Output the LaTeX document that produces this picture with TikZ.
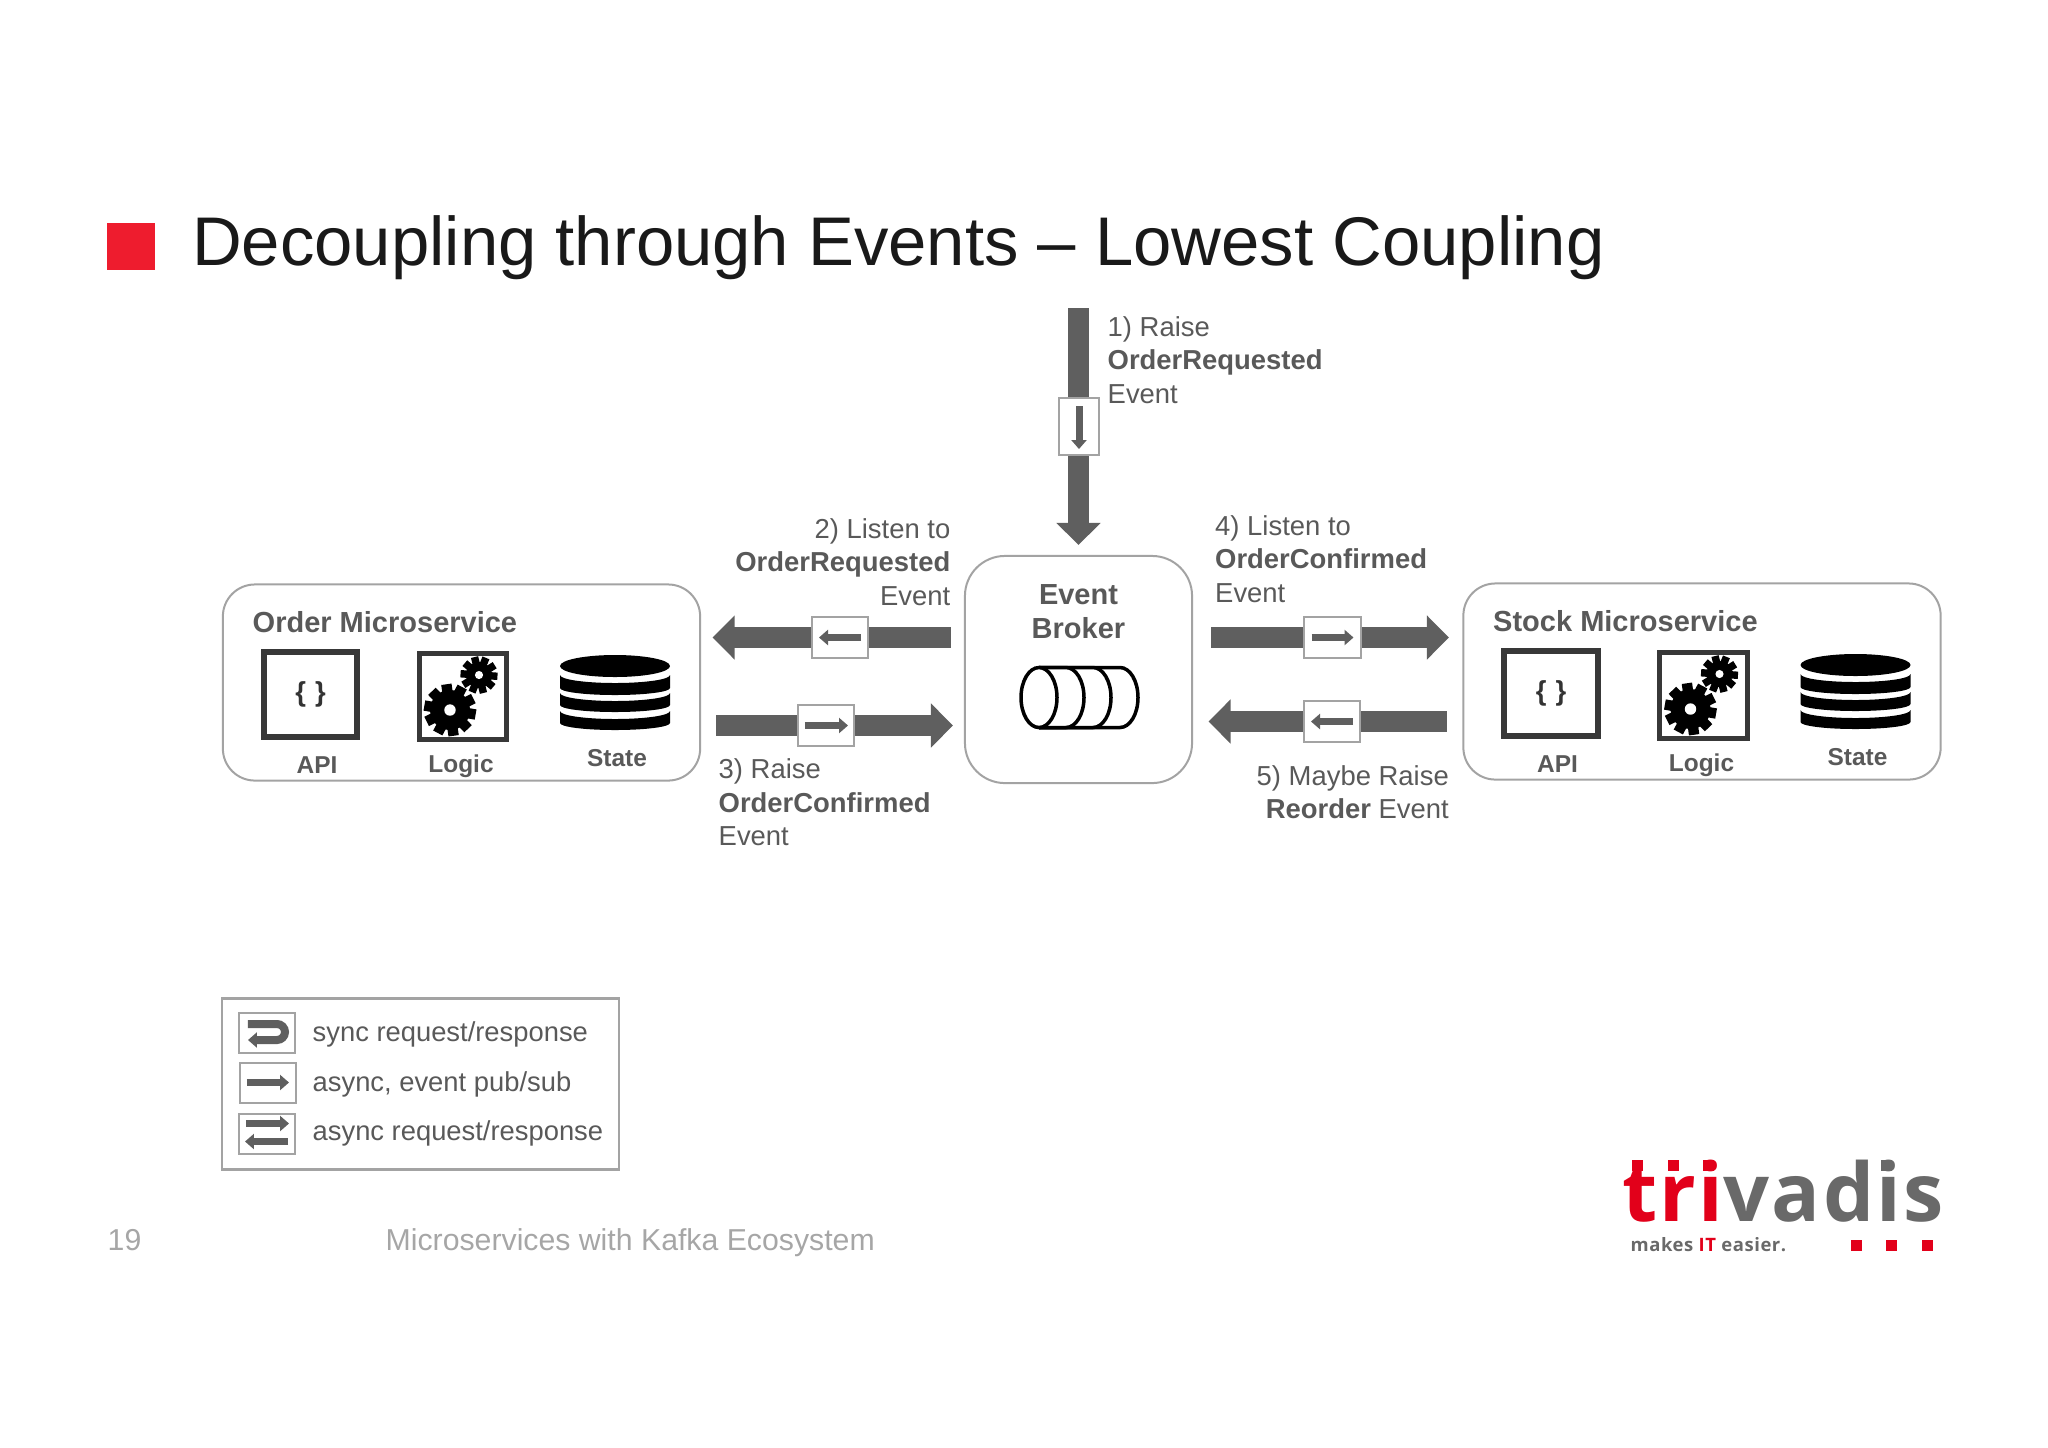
\documentclass[tikz,border=0pt]{standalone}
\usepackage{fontspec}
\setmainfont{Liberation Sans}
\newfontfamily\logofont[LetterSpace=3]{Open Sans}
\usetikzlibrary{arrows.meta,backgrounds,positioning}
\definecolor{flowgray}{HTML}{5F5F5F}
\definecolor{textgray}{HTML}{595959}
\definecolor{framegray}{HTML}{A3A3A3}
\definecolor{footgray}{HTML}{A6A6A6}
\definecolor{titlered}{HTML}{EE1C2E}
\definecolor{logored}{HTML}{E2001A}
\definecolor{logogray}{HTML}{696969}
\tikzset{
  x=0.01cm,y=-0.01cm,
  svcbox/.style={draw=framegray,line width=.02cm,rounded corners=.32cm,minimum width=4.77cm,minimum height=1.96cm},
  partbox/.style={draw=black!78,line width=.06cm,inner sep=0pt,text=black!80},
  svclabel/.style={text=textgray,inner sep=0pt,font=\fontsize{6.95}{8}\selectfont\bfseries},
  svctitle/.style={text=textgray,inner sep=0pt,font=\fontsize{8.25}{9}\selectfont\bfseries},
  note/.style={text=textgray,inner sep=0pt,font=\fontsize{7.8}{9.5}\selectfont},
  tag/.style={draw=framegray,line width=.02cm,fill=white,inner sep=0pt,minimum width=.56cm,minimum height=.41cm},
  flow/.style={draw=flowgray,line width=.21cm,-{Triangle[length=.22cm,width=.43cm]},color=flowgray},
  mini/.style={draw=flowgray,line width=.07cm,-{Triangle[length=.09cm,width=.15cm]},color=flowgray},
  legtext/.style={text=textgray,inner sep=0pt,anchor=west,font=\fontsize{7.78}{9.4}\selectfont},
  logosq/.style={fill=logored,inner sep=0pt,minimum size=.11cm},
}
\newcommand{\gearwheel}[5]{% x, y, outer, body, hole
  \fill[black] (#1,#2) circle (#4);
  \foreach \a in {0,36,72,108,144}
    \fill[black,rotate around={\a+#5:(#1,#2)}] (#1-#3*.2,#2-#3) rectangle (#1+#3*.2,#2+#3);
  \fill[white] (#1,#2) circle (#3*.22);
}
\newcommand{\dblayer}[2]{% top of side, side height
  \fill[black] (560,#1) -- (560,#1+#2) arc[start angle=180,end angle=0,x radius=55,y radius=7] -- (670,#1) arc[start angle=0,end angle=180,x radius=55,y radius=8] -- cycle;
}
\newcommand{\microservice}[4]{% name, title, x shift, y shift
\begin{scope}[shift={(#3,#4)}]
\node [svcbox] (#1) at (461.5,682.5) {};
\node [svctitle,anchor=west] (#1title) at (252,622) {#2};
\node [partbox,minimum width=.93cm,minimum height=.85cm] (#1api) at (310.5,694.5) {\fontsize{7.8}{9}\selectfont\bfseries\{\,\,\}};
\node [svclabel] (#1apilabel) at (317,765) {API};
\node [partbox,line width=.05cm,minimum width=.87cm,minimum height=.86cm] (#1logic) at (463,696.5) {};
\gearwheel{450}{710}{26}{20}{8}
\gearwheel{479}{675}{18.5}{13}{14}
\node [svclabel] (#1logiclabel) at (461,766) {Logic};
\fill[black] (615,666) ellipse (55 and 11);
\dblayer{675}{13}
\dblayer{693}{12}
\dblayer{711}{12}
\node [svclabel] (#1statelabel) at (617,758) {State};
\end{scope}
}
\begin{document}
\begin{tikzpicture}
\useasboundingbox (0,0) rectangle (2048,1447);
\fill[titlered] (107,223) rectangle (155,270);
\node [anchor=west,inner sep=0pt,text=black!90,font=\fontsize{19.58}{23}\selectfont] (title) at (191.5,248) {Decoupling through Events – Lowest Coupling};
\microservice{order}{Order Microservice}{0}{0}
\microservice{stock}{Stock Microservice}{1240.5}{-1}
\node [draw=framegray,line width=.02cm,rounded corners=.4cm,minimum width=2.27cm,minimum height=2.27cm] (broker) at (1078.5,669.5) {};
\node [text=textgray,align=center,inner sep=0pt,font=\fontsize{8.25}{9.6}\selectfont\bfseries] (brokertitle) at (1078.5,612) {Event\\Broker};
\foreach \i in {3,2,1}
  \draw[black,line width=.035cm,fill=white] (1039,667.5) -- (1039+\i*27,667.5) arc[start angle=-90,end angle=90,x radius=18,y radius=30] -- (1039,727.5);
\draw[black,line width=.035cm,fill=white] (1039,697.5) ellipse (18 and 30);
\coordinate (raise) at (1078.5,308);
\node [tag,minimum width=.4cm,minimum height=.57cm] (tag1) at (1079,426.5) {};
\node [tag] (tag2) at (840,637.5) {};
\node [tag] (tag3) at (826,725.5) {};
\node [tag] (tag4) at (1332.5,637.5) {};
\node [tag] (tag5) at (1332,721.5) {};
\begin{scope}[on background layer]
\draw [flow,shorten >=.1cm] (raise) -- (broker.north -| raise);
\draw [flow,shorten <=.13cm,shorten >=.115cm] (broker.west |- tag2) -- (order.east |- tag2);
\draw [flow,shorten <=.15cm,shorten >=.11cm] (order.east |- tag3) -- (broker.west |- tag3);
\draw [flow,shorten <=.18cm,shorten >=.135cm] (broker.east |- tag4) -- (stock.west |- tag4);
\draw [flow,shorten <=.155cm,shorten >=.155cm] (stock.west |- tag5) -- (broker.east |- tag5);
\end{scope}
\draw [mini] ([yshift=-.09cm]tag1.north) -- ([yshift=.07cm]tag1.south);
\draw [mini] ([xshift=-.08cm]tag2.east) -- ([xshift=.08cm]tag2.west);
\draw [mini] ([xshift=.08cm]tag3.west) -- ([xshift=-.07cm]tag3.east);
\draw [mini] ([xshift=.08cm]tag4.west) -- ([xshift=-.08cm]tag4.east);
\draw [mini] ([xshift=-.08cm]tag5.east) -- ([xshift=.08cm]tag5.west);
\node [note,align=left,anchor=west] (note1) at (1107,360) {1) Raise\\\textbf{OrderRequested}\\Event};
\node [note,align=right,anchor=east] (note2) at (951,562) {2) Listen to\\\textbf{OrderRequested}\\Event};
\node [note,align=left,anchor=west] (note3) at (718,802.5) {3) Raise\\\textbf{OrderConfirmed}\\Event};
\node [note,align=left,anchor=west] (note4) at (1214.5,559) {4) Listen to\\\textbf{OrderConfirmed}\\Event};
\node [note,align=right,anchor=east] (note5) at (1449.5,792) {5) Maybe Raise\\\textbf{Reorder} Event};
\node [draw=framegray,line width=.025cm,minimum width=3.97cm,minimum height=1.71cm] (legend) at (420.5,1084) {};
\node [tag,minimum width=.56cm,minimum height=.4cm] (leg1) at (267,1033) {};
\node [tag,minimum width=.56cm,minimum height=.4cm] (leg2) at (268,1082.5) {};
\node [tag,minimum width=.56cm,minimum height=.4cm] (leg3) at (267,1133.5) {};
\draw [mini,line width=.08cm] ([xshift=.1cm,yshift=.09cm]leg1.west) -- ++(29,0) arc[start angle=-90,end angle=90,radius=8] -- ([xshift=.1cm,yshift=-.07cm]leg1.west);
\draw [mini] ([xshift=.08cm]leg2.west) -- ([xshift=-.08cm]leg2.east);
\draw [mini] ([xshift=.08cm,yshift=.1cm]leg3.west) -- ([xshift=-.07cm,yshift=.1cm]leg3.east);
\draw [mini] ([xshift=-.08cm,yshift=-.08cm]leg3.east) -- ([xshift=.07cm,yshift=-.08cm]leg3.west);
\node [legtext] (legtext1) at (312,1034.5) {sync request/response};
\node [legtext] (legtext2) at (312,1084.5) {async, event pub/sub};
\node [legtext] (legtext3) at (312,1133.5) {async request/response};
\node [anchor=west,inner sep=0pt,text=footgray,font=\fontsize{8.6}{10}\selectfont] (page) at (107,1240) {19};
\node [anchor=west,inner sep=0pt,text=footgray,font=\fontsize{8.6}{10}\selectfont] (footer) at (385,1243) {Microservices with Kafka Ecosystem};
\node [anchor=base west,inner sep=0pt,font=\logofont\fontsize{23}{26}\selectfont\bfseries,text=logogray] (logo) at (1621.5,1221) {\textcolor{logored}{tri}vadis};
\node [logosq] (sqa) at (1637.5,1165.5) {};
\node [logosq] (sqb) at (1673.5,1165.5) {};
\node [logosq] (sqc) at (1708.5,1165.5) {};
\node [fill=logogray,inner sep=0pt,minimum size=.11cm] (sqd) at (1886,1165.5) {};
\node [anchor=west,inner sep=0pt,text=logogray,font=\logofont\fontsize{5.25}{7}\selectfont\bfseries] (slogan) at (1630,1245) {makes \textcolor{logored}{IT} easier.};
\node [logosq] (dota) at (1856.5,1245.5) {};
\node [logosq] (dotb) at (1891.5,1245.5) {};
\node [logosq] (dotc) at (1927.5,1245.5) {};
\end{tikzpicture}
\end{document}
